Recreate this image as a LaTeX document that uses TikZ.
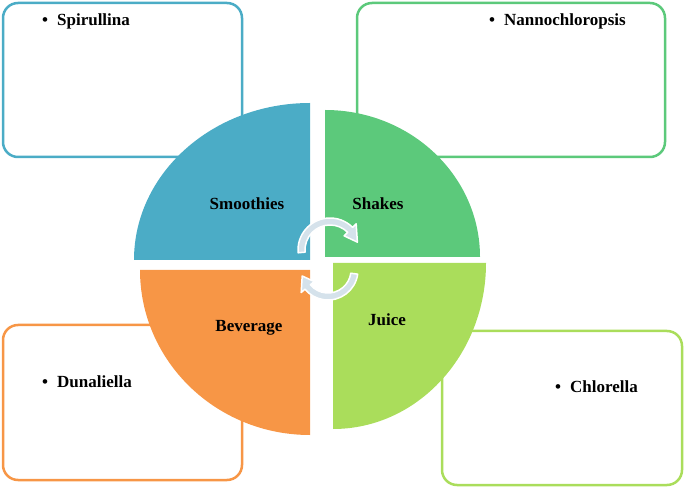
\documentclass[tikz,border=0pt]{standalone}
\usepackage{fontspec}
\setmainfont{Liberation Serif}
\definecolor{cBlue}{HTML}{4BACC6}
\definecolor{cGreen}{HTML}{5CC97B}
\definecolor{cOrange}{HTML}{F79646}
\definecolor{cLime}{HTML}{AADD5B}
\definecolor{cArrow}{HTML}{D5E2EB}
\tikzset{
  boxline/.style={line width=2.5pt, rounded corners=15pt},
  quadlabel/.style={font=\fontsize{17}{20}\selectfont\bfseries, text=black, inner sep=0pt},
  itemlabel/.style={font=\fontsize{17}{20}\selectfont\bfseries, text=black, inner sep=0pt, anchor=west},
  cyclearrow/.style={fill=cArrow, draw=white, line width=1.5pt, line join=round}
}
\begin{document}
\begin{tikzpicture}[x=1pt,y=1pt]
\useasboundingbox (0,0) rectangle (685,490);
% outer boxes
\draw[boxline, draw=cBlue] (3,487) rectangle (242,333);
\draw[boxline, draw=cGreen] (357,487) rectangle (665,333);
\draw[boxline, draw=cOrange] (3,165) rectangle (242,10);
\draw[boxline, draw=cLime] (442,159) rectangle (682,5);
% quadrants
\fill[cBlue] (310,230) -- (310,387) arc[start angle=90, end angle=180, x radius=176, y radius=157] -- cycle;
\fill[cGreen] (325,233) -- (480,233) arc[start angle=0, end angle=90, x radius=155, y radius=147] -- cycle;
\fill[cOrange] (310,220) -- (140,220) arc[start angle=180, end angle=270, x radius=170, y radius=165] -- cycle;
\fill[cLime] (333,227) -- (333,61) arc[start angle=270, end angle=360, x radius=153, y radius=166] -- cycle;
% cycle arrows
\begin{scope}[shift={(330,240)}]
\draw[cyclearrow] (185:32) arc[start angle=185, end angle=45, radius=32]
  -- (45:37) -- (16:28.5) -- (45:20) -- (45:25)
  arc[start angle=45, end angle=185, radius=25] -- cycle;
\end{scope}
\begin{scope}[shift={(328,220)}]
\draw[cyclearrow] (-8:30) arc[start angle=-8, end angle=-140, radius=30]
  -- (-140:35) -- (-167:26.5) -- (-140:18) -- (-140:23)
  arc[start angle=-140, end angle=-8, radius=23] -- cycle;
\end{scope}
% quadrant labels
\node[quadlabel] (smoothies) at (247,286) {Smoothies};
\node[quadlabel] (shakes) at (378,286) {Shakes};
\node[quadlabel] (beverage) at (249,162) {Beverage};
\node[quadlabel] (juice) at (387,170) {Juice};
% box items
\node[itemlabel] (spirullina) at (42,469) {\textbullet\hspace{9pt}Spirullina};
\node[itemlabel] (nanno) at (489,469) {\textbullet\hspace{9pt}Nannochloropsis};
\node[itemlabel] (duna) at (42,108) {\textbullet\hspace{9pt}Dunaliella};
\node[itemlabel] (chlorella) at (555,103) {\textbullet\hspace{9pt}Chlorella};
\end{tikzpicture}
\end{document}
